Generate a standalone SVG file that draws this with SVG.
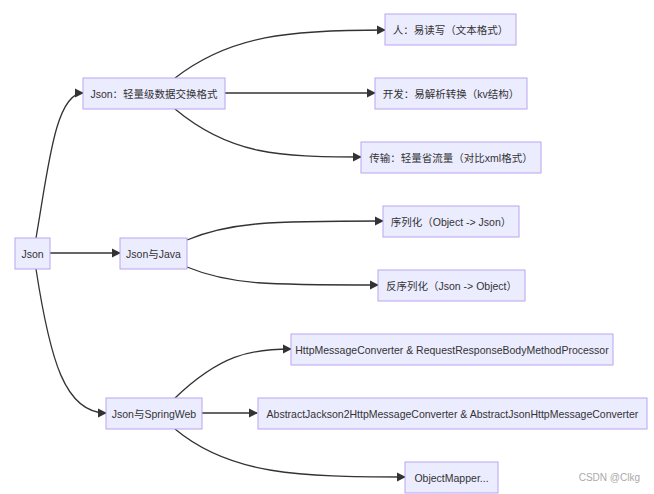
<svg xmlns="http://www.w3.org/2000/svg" width="654" height="494" viewBox="0 0 654 494">
<defs>
<marker id="a" viewBox="0 0 10 10" refX="9" refY="5" markerWidth="7" markerHeight="7" orient="auto"><path d="M0,0L10,5L0,10z" fill="#333"/></marker>
<style>
.n rect{fill:#ECECFF;stroke:#b9a3ee;stroke-width:1}
.n text{font-family:"Liberation Sans","Noto Sans CJK SC",sans-serif;font-size:10.5px;fill:#333;text-anchor:middle;dominant-baseline:central}
.e path{fill:none;stroke:#333;stroke-width:1.3;marker-end:url(#a)}
</style>
</defs>
<rect width="654" height="494" fill="#fff"/>
<g class="e">
<path d="M36,238C48,170 55,93 83,93"/>
<path d="M50,253H120"/>
<path d="M36,269C50,360 65,413 106,413"/>
<path d="M175,78C230,35 290,30 385,30"/>
<path d="M225,93H375"/>
<path d="M175,109C230,155 280,157 361,157"/>
<path d="M187,240C230,222 270,221 383,221"/>
<path d="M187,267C230,285 270,285 378,285"/>
<path d="M175,398C220,355 250,349 291,349"/>
<path d="M202,413H257"/>
<path d="M175,429C230,475 300,477 405,477"/>
</g>
<g id="json" class="n"><rect x="15" y="238" width="35" height="31"/><text x="32.5" y="253.5">Json</text></g>
<g id="fmt" class="n"><rect x="83" y="78" width="142" height="31"/><text x="154" y="93.5">Json：轻量级数据交换格式</text></g>
<g id="human" class="n"><rect x="385" y="14" width="131" height="31"/><text x="450.5" y="29.5">人：易读写（文本格式）</text></g>
<g id="dev" class="n"><rect x="375" y="78" width="152" height="31"/><text x="451" y="93.5">开发：易解析转换（kv结构）</text></g>
<g id="trans" class="n"><rect x="361" y="142" width="180" height="31"/><text x="451" y="157.5">传输：轻量省流量（对比xml格式）</text></g>
<g id="ser" class="n"><rect x="383" y="206" width="136" height="31"/><text x="451" y="221.5">序列化（Object -&gt; Json）</text></g>
<g id="java" class="n"><rect x="120" y="238" width="67" height="31"/><text x="153.5" y="253.5">Json与Java</text></g>
<g id="deser" class="n"><rect x="378" y="270" width="147" height="31"/><text x="451.5" y="285.5">反序列化（Json -&gt; Object）</text></g>
<g id="http" class="n"><rect x="291" y="334" width="322" height="31"/><text x="452" y="349.5">HttpMessageConverter &amp; RequestResponseBodyMethodProcessor</text></g>
<g id="spring" class="n"><rect x="106" y="398" width="96" height="31"/><text x="154" y="413.5">Json与SpringWeb</text></g>
<g id="abs" class="n"><rect x="258" y="398" width="389" height="31"/><text x="452.5" y="413.5">AbstractJackson2HttpMessageConverter &amp; AbstractJsonHttpMessageConverter</text></g>
<g id="om" class="n"><rect x="405" y="462" width="93" height="31"/><text x="451.5" y="477.5">ObjectMapper...</text></g>
<text x="640" y="481" font-family="Liberation Sans,sans-serif" font-size="10" fill="#aaa" text-anchor="end">CSDN @Clkg</text>
</svg>
